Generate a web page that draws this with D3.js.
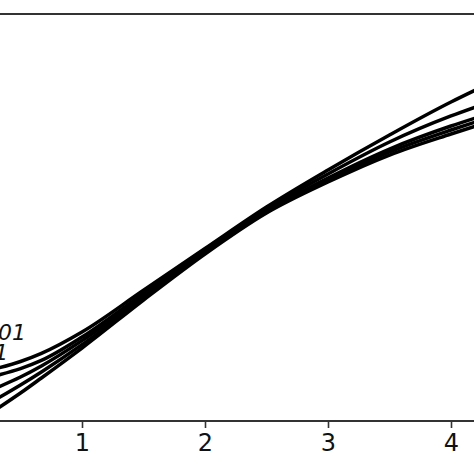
<!DOCTYPE html>
<html>
<head>
<meta charset="utf-8">
<script src="https://cdn.jsdelivr.net/npm/d3@7"></script>
<style>
  html, body { margin: 0; padding: 0; background: #fff; }
  svg { display: block; }
</style>
</head>
<body>
<div id="chart"></div>
<script>
// ---- data ----
const xValues = [0.32, 0.5, 0.67, 1, 1.5, 2, 2.5, 3, 3.5, 4, 4.2];
const series1 = [0.521, 0.585, 0.665, 0.875, 1.285, 1.695, 2.103, 2.467, 2.811, 3.135, 3.253];
const series2 = [0.452, 0.515, 0.595, 0.825, 1.255, 1.686, 2.084, 2.428, 2.742, 2.998, 3.086];
const series3 = [0.334, 0.432, 0.541, 0.790, 1.225, 1.664, 2.064, 2.388, 2.673, 2.899, 2.978];
const series4 = [0.226, 0.354, 0.482, 0.750, 1.202, 1.652, 2.054, 2.369, 2.644, 2.860, 2.939];
const series5 = [0.128, 0.275, 0.423, 0.717, 1.189, 1.641, 2.044, 2.349, 2.614, 2.821, 2.899];
const allSeries = [series1, series2, series3, series4, series5];
const xTicks = [1, 2, 3, 4];
const labelTexts = ["0.01", "0.1"];
const labelX = [0.545, 0.40];
const labelY = [0.796, 0.600];

// ---- layout ----
const W = 474, H = 474;
const svg = d3.select("#chart").append("svg")
  .attr("width", W).attr("height", H);

const x = d3.scaleLinear().domain([0, 4]).range([-41, 451]);
const y = d3.scaleLinear().domain([0, 4]).range([421, 14]);

const line = d3.line()
  .x((d, i) => x(xValues[i]))
  .y(d => y(d))
  .curve(d3.curveMonotoneX);

svg.append("g")
  .selectAll("path")
  .data(allSeries)
  .join("path")
  .attr("d", d => line(d))
  .attr("fill", "none")
  .attr("stroke", "#000")
  .attr("stroke-width", 3.5)
  .attr("stroke-linejoin", "round");

// labels
svg.append("g")
  .selectAll("text")
  .data(labelTexts)
  .join("text")
  .attr("x", (d, i) => x(labelX[i]))
  .attr("y", (d, i) => y(labelY[i]))
  .attr("text-anchor", "end")
  .attr("font-family", "DejaVu Sans")
  .attr("font-style", "italic")
  .attr("font-size", 22)
  .attr("fill", "#111")
  .text(d => d);

// top spine
svg.append("line")
  .attr("x1", 0).attr("x2", W)
  .attr("y1", y(4)).attr("y2", y(4))
  .attr("stroke", "#333").attr("stroke-width", 2);

// bottom axis
const xAxis = d3.axisBottom(x).tickValues(xTicks).tickFormat(d3.format("d"))
  .tickSize(7).tickPadding(6);
const gx = svg.append("g").attr("transform", `translate(0,${y(0)})`).call(xAxis);
gx.select(".domain").remove();
gx.selectAll(".tick line").attr("stroke", "#333").attr("stroke-width", 1.6);
gx.selectAll(".tick text")
  .attr("font-family", "DejaVu Sans")
  .attr("font-size", 24)
  .attr("fill", "#111");
svg.append("line")
  .attr("x1", 0).attr("x2", W)
  .attr("y1", y(0)).attr("y2", y(0))
  .attr("stroke", "#333").attr("stroke-width", 2);
</script>
</body>
</html>
